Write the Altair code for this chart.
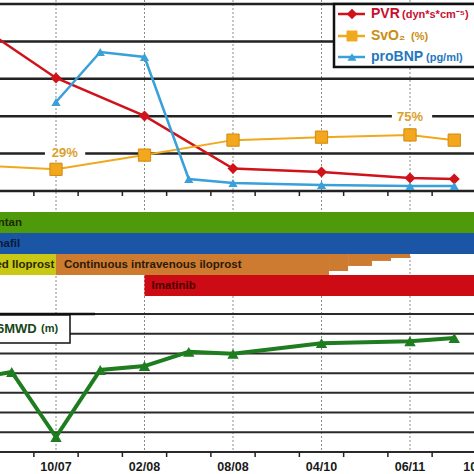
import altair as alt
import pandas as pd

# ---------------- data ----------------
# x position = visit index (half-steps between labelled visits)
pvr_u = [0, 2, 4, 6, 8, 10, 11]
pvr_val = [2313, 1511, 1003, 301, 254, 174, 160]          # dyn*s*cm-5
svo2_u = [0, 2, 4, 6, 8, 10, 11]
svo2_val = [35, 29, 48, 68, 72, 75, 68]                    # %
bnp_u = [2, 3, 4, 5, 6, 8, 10, 11]
bnp_val = [2380, 3717, 3583, 321, 214, 160, 134, 134]      # pg/ml
mwd_u = [0, 1, 2, 3, 4, 5, 6, 8, 10, 11]
mwd_val = [283, 303, 138, 308, 318, 354, 349, 376, 381, 389]  # m

label_u = [2, 4, 6, 8, 10, 11.55]
label_text = ["10/07", "02/08", "08/08", "04/10", "06/11", "10/11"]
grid_u = [2, 4, 6, 8, 10]
minor_u = [1.5, 2.5, 3.5, 4.5, 5.5, 6.5, 7.5, 8.5, 9.5, 10.5]

top_grid = [0, 500, 1000, 1500, 2000, 2500]
bottom_grid = [100, 150, 200, 250, 300, 350, 400, 450]

drug_names = ["Bosentan", "Sildenafil", "Inhaled Iloprost",
              "Continuous intravenous iloprost", "Imatinib"]
drug_start = [-1, -1, -1, 2.0, 4.0]
drug_end = [13, 13, 2.0, 8.17, 13]
drug_row = [0, 1, 2, 2, 3]
drug_color = ["#4f9a0a", "#1b55a6", "#c9c814", "#cc7b31", "#cc0b15"]
drug_text_color = ["#1c2a05", "#0a1a3a", "#2a2a00", "#2e1a05", "#4a0000"]
drug_text_u = [1.23, 1.19, 1.96, 2.18, 4.16]
drug_text_align = ["right", "right", "right", "left", "left"]

taper_start = [8.17, 8.60, 9.14, 9.57]
taper_end = [8.60, 9.14, 9.57, 10.0]
taper_dose = [0.81, 0.57, 0.33, 0.19]

ann_u = [2.2, 10.0]
ann_lo = [1.75, 9.59]
ann_hi = [2.66, 10.5]
ann_text = ["29%", "75%"]
ann_y = [153, 117]

FONT = "Liberation Sans"
XS = alt.Scale(domain=[0.7345, 11.446], nice=False, zero=False)
X = lambda f="u": alt.X(f"{f}:Q", scale=XS, axis=None)
one = pd.DataFrame({"k": [0]})

layers = []

# vertical dotted grid
layers.append(alt.Chart(pd.DataFrame({"u": grid_u})).mark_rule(
    color="#8a8a8a", strokeDash=[2, 2], strokeWidth=1).encode(
    x=X(), y=alt.value(0), y2=alt.value(452)))

# top horizontal grid
layers.append(alt.Chart(pd.DataFrame({"v": top_grid})).mark_rule(
    color="#222222", strokeWidth=2.5).encode(
    y=alt.Y("v:Q", scale=alt.Scale(domain=[0, 2500], range=[191, 4]), axis=None),
    x=alt.value(0), x2=alt.value(474)))

# bottom horizontal grid
layers.append(alt.Chart(pd.DataFrame({"v": bottom_grid})).mark_rule(
    color="#2a2a2a", strokeWidth=2).encode(
    y=alt.Y("v:Q", scale=alt.Scale(domain=[100, 450], range=[452, 314]), axis=None),
    x=alt.value(0), x2=alt.value(474)))

# tick marks
for y0 in (191, 452):
    layers.append(alt.Chart(pd.DataFrame({"u": minor_u})).mark_rule(
        color="#222222", strokeWidth=1.5).encode(
        x=X(), y=alt.value(y0), y2=alt.value(y0 + 5)))

# annotation gaps and labels
ann = pd.DataFrame({"u": ann_u, "lo": ann_lo, "hi": ann_hi, "t": ann_text, "yy": ann_y})
for i in range(2):
    a = ann.iloc[[i]]
    layers.append(alt.Chart(a).mark_rect(color="white").encode(
        x=X("lo"), x2="hi:Q", y=alt.value(ann_y[i] - 5), y2=alt.value(ann_y[i] + 5)))
    layers.append(alt.Chart(a).mark_text(
        font=FONT, fontWeight="bold", fontSize=13, color="#d9a12b", baseline="middle").encode(
        x=X(), y=alt.value(ann_y[i]), text="t:N"))

# PVR
pvr = pd.DataFrame({"u": pvr_u, "v": pvr_val})
ys_pvr = alt.Y("v:Q", scale=alt.Scale(domain=[0, 2500], range=[191, 4]), axis=None)
layers.append(alt.Chart(pvr).mark_line(color="#d0121b", strokeWidth=2.5, clip=True).encode(x=X(), y=ys_pvr))
layers.append(alt.Chart(pvr).mark_point(shape="diamond", filled=True, size=120, opacity=1,
                                        color="#d0121b", clip=True).encode(x=X(), y=ys_pvr))

# SvO2
sv = pd.DataFrame({"u": svo2_u, "v": svo2_val})
ys_sv = alt.Y("v:Q", scale=alt.Scale(domain=[0, 250], range=[191, 4]), axis=None)
layers.append(alt.Chart(sv).mark_line(color="#f0a81c", strokeWidth=2, clip=True).encode(x=X(), y=ys_sv))
layers.append(alt.Chart(sv).mark_point(shape="square", filled=True, size=150, opacity=1,
                                       color="#f3a71c", stroke="#d08a10", strokeWidth=1,
                                       clip=True).encode(x=X(), y=ys_sv))

# proBNP
bnp = pd.DataFrame({"u": bnp_u, "v": bnp_val})
ys_bnp = alt.Y("v:Q", scale=alt.Scale(domain=[0, 5000], range=[191, 4]), axis=None)
layers.append(alt.Chart(bnp).mark_line(color="#39a0d9", strokeWidth=2.5, clip=True).encode(x=X(), y=ys_bnp))
layers.append(alt.Chart(bnp).mark_point(shape="triangle-up", filled=True, size=85, opacity=1,
                                        color="#39a0d9", clip=True).encode(x=X(), y=ys_bnp))

# drug bars
drugs = pd.DataFrame({"name": drug_names, "s": drug_start, "e": drug_end, "r": drug_row,
                      "col": drug_color, "tc": drug_text_color, "tu": drug_text_u,
                      "al": drug_text_align})
drugs["r2"] = drugs["r"] + 1
ys_bar = alt.Scale(domain=[0, 4], range=[212, 296])
layers.append(alt.Chart(drugs).mark_rect(clip=True).encode(
    x=X("s"), x2="e:Q",
    y=alt.Y("r:Q", scale=ys_bar, axis=None), y2="r2:Q",
    color=alt.Color("col:N", scale=None)))
taper = pd.DataFrame({"s": taper_start, "e": taper_end, "d": taper_dose})
taper["r"] = 2
taper["r2"] = 2 + taper["d"]
layers.append(alt.Chart(taper).mark_rect(color="#cc7b31", clip=True).encode(
    x=X("s"), x2="e:Q",
    y=alt.Y("r:Q", scale=ys_bar, axis=None), y2="r2:Q"))
drugs["rm"] = drugs["r"] + 0.5
for al in ("right", "left"):
    d = drugs[drugs["al"] == al]
    layers.append(alt.Chart(d).mark_text(
        font=FONT, fontWeight="bold", fontSize=11.5, align=al, baseline="middle").encode(
        x=X("tu"), y=alt.Y("rm:Q", scale=ys_bar, axis=None), text="name:N",
        color=alt.Color("tc:N", scale=None)))

# 6MWD
mwd = pd.DataFrame({"u": mwd_u, "v": mwd_val})
ys_mwd = alt.Y("v:Q", scale=alt.Scale(domain=[100, 450], range=[452, 314]), axis=None)
layers.append(alt.Chart(mwd).mark_line(color="#1e7d1e", strokeWidth=4, clip=True).encode(x=X(), y=ys_mwd))
layers.append(alt.Chart(mwd).mark_point(shape="triangle-up", filled=True, size=130, opacity=1,
                                        color="#1e7d1e", clip=True).encode(x=X(), y=ys_mwd))

# 6MWD legend box
layers.append(alt.Chart(one).mark_rule(color="#111111", strokeWidth=2.5).encode(
    x=alt.value(0), x2=alt.value(95), y=alt.value(314)))
layers.append(alt.Chart(one).mark_rect(fill="white", stroke="#111111", strokeWidth=1.5).encode(
    x=alt.value(-2), x2=alt.value(70), y=alt.value(315), y2=alt.value(343)))
layers.append(alt.Chart(one).mark_text(font=FONT, fontWeight="bold", fontSize=13, align="left",
                                       baseline="middle", color="#17461a").encode(
    x=alt.value(-3), y=alt.value(329), text=alt.value("6MWD")))
layers.append(alt.Chart(one).mark_text(font=FONT, fontWeight="bold", fontSize=11, align="left",
                                       baseline="middle", color="#17461a").encode(
    x=alt.value(41), y=alt.value(329), text=alt.value("(m)")))

# top legend box
layers.append(alt.Chart(one).mark_rect(fill="white", stroke="#111111", strokeWidth=2.5).encode(
    x=alt.value(334), x2=alt.value(478), y=alt.value(4), y2=alt.value(67)))
leg = [("PVR", "(dyn*s*cm⁻⁵)", "#d0121b", "#c8102e", "diamond", 14, 402, 110),
       ("SvO₂", "(%)", "#f0a81c", "#c98d12", "square", 36, 411, 120),
       ("proBNP", "(pg/ml)", "#39a0d9", "#1f78c0", "triangle-up", 57, 426, 80)]
for name, unit, lc, tc, shp, yy, ux, sz in leg:
    layers.append(alt.Chart(one).mark_rule(color=lc, strokeWidth=2.5).encode(
        x=alt.value(338), x2=alt.value(365), y=alt.value(yy)))
    layers.append(alt.Chart(one).mark_point(shape=shp, filled=True, size=sz, opacity=1, color=lc).encode(
        x=alt.value(352), y=alt.value(yy)))
    layers.append(alt.Chart(one).mark_text(font=FONT, fontWeight="bold", fontSize=14, align="left",
                                           baseline="middle", color=tc).encode(
        x=alt.value(371), y=alt.value(yy), text=alt.value(name)))
    layers.append(alt.Chart(one).mark_text(font=FONT, fontWeight="bold", fontSize=11, align="left",
                                           baseline="middle", color=tc).encode(
        x=alt.value(ux), y=alt.value(yy + 1), text=alt.value(unit)))

# x tick labels
labs = pd.DataFrame({"u": label_u, "t": label_text})
layers.append(alt.Chart(labs).mark_text(font=FONT, fontWeight="bold", fontSize=12.5,
                                        baseline="middle", color="#1a1a1a").encode(
    x=X(), y=alt.value(467), text="t:N"))

chart = alt.layer(*layers).resolve_scale(y="independent").properties(
    width=474, height=474, padding=0, autosize=alt.AutoSizeParams(type="none"),
    background="white"
).configure_view(stroke=None)

chart.save("out.html", embed_options={"renderer": "svg", "actions": False})
